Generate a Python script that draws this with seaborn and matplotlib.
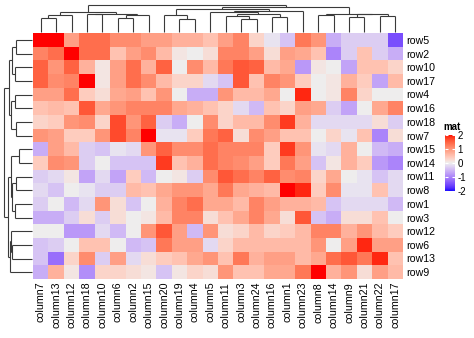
import numpy as np
import pandas as pd
import matplotlib
matplotlib.use("Agg")
import matplotlib.pyplot as plt
from matplotlib.colors import ListedColormap
import seaborn as sns

# ---------------- data (display order) ----------------
row_labels = ["row5", "row2", "row10", "row17", "row4", "row16", "row18", "row7", "row15",
              "row14", "row11", "row8", "row1", "row3", "row12", "row6", "row13", "row9"]
col_labels = ["column7", "column13", "column12", "column18", "column10", "column6", "column2",
              "column15", "column20", "column19", "column4", "column5", "column11", "column3",
              "column24", "column16", "column1", "column23", "column8", "column14", "column9",
              "column21", "column22", "column17"]

row5 = [2.0, 2.0, 0.9, 1.4, 1.4, 1.1, 1.1, 0.9, 0.9, 0.7, 0.7, 0.5, 0.9, 1.2, 0.3, -0.1, -0.4, 1.3, 1.0, -0.6, -0.3, -0.3, -0.3, -1.5]
row2 = [1.2, 1.4, 2.0, 1.4, 1.4, 0.5, 0.9, 1.1, 0.6, 0.1, 0.0, 0.2, 1.2, 1.2, 0.9, 0.2, 0.9, 0.8, 0.5, -1.0, -0.3, 0.5, -0.3, -0.6]
row10 = [1.5, 1.0, 1.5, 0.7, 0.1, 0.9, 1.4, 0.7, 1.5, 0.0, 1.1, 0.6, 1.3, 1.6, 1.5, 0.6, 0.8, -0.8, 0.1, 0.0, -0.7, 0.5, 0.5, 0.3]
row17 = [1.5, 1.1, 1.2, 2.0, 0.1, 0.9, 1.4, 1.1, 0.6, 0.3, 0.3, -0.2, -0.4, 1.6, 0.5, 1.2, 1.0, 0.4, 0.0, 0.1, 0.7, 0.4, -0.7, 0.6]
row4 = [0.9, 0.9, 1.4, 0.4, 0.2, 0.8, 0.9, 0.5, 1.0, 0.0, -0.6, -0.6, 1.0, 0.6, 0.6, 0.8, 0.0, 1.9, 0.0, 0.1, 1.2, 0.3, 0.0, 0.0]
row16 = [0.5, 0.6, 0.5, 1.6, 0.8, 1.0, 1.2, 1.2, 1.2, 0.8, 0.7, 0.5, 0.3, -0.2, -0.5, 0.5, 0.3, 0.9, 0.8, -0.3, -0.7, 0.0, 0.8, 1.2]
row18 = [0.3, 0.4, 1.0, 1.1, 0.3, 1.7, 1.0, 1.5, -0.3, -0.6, 0.0, 1.1, 0.3, 0.6, 0.6, 1.1, 1.8, 0.7, -0.2, -0.2, -0.2, -0.2, 0.2, -0.3]
row7 = [1.0, 0.9, 0.4, 0.4, 1.0, 1.7, 1.2, 2.0, -0.1, -0.1, 0.4, 1.3, 1.5, 0.2, 1.1, 0.9, 0.5, 0.5, 0.0, 0.3, -0.1, 0.5, -1.0, 0.2]
row15 = [-0.6, 0.9, 0.6, -0.3, -0.4, -0.1, -0.2, 1.0, 1.5, 1.1, 1.1, 1.4, 1.2, 1.2, 1.2, 0.4, 1.8, 1.0, -0.1, -0.2, 0.7, 0.0, -0.5, -0.6]
row14 = [0.4, 1.1, 1.0, -0.3, 0.0, -0.4, -0.4, -0.4, 1.8, 0.5, 0.7, 1.4, 1.2, 1.1, 0.9, 0.4, 1.3, 0.9, -0.4, 0.1, 0.7, 0.4, -0.8, -1.0]
row11 = [-0.3, -0.2, 0.1, -0.7, -0.2, -0.7, 0.4, -0.5, 0.0, 0.1, -0.3, 1.1, 1.6, 1.4, 1.2, 1.5, 1.1, 1.2, 0.3, 0.8, 0.0, -0.1, -0.4, -0.2]
row8 = [-0.2, -0.4, 0.0, -0.1, -0.3, -0.3, 0.6, 0.5, 0.8, 1.0, 1.0, 0.8, 1.3, 0.8, 0.7, 0.6, 2.0, 1.9, 0.4, 1.1, -0.1, -0.1, 0.5, -0.2]
row1 = [-0.3, 0.0, -0.5, -0.2, 1.0, 0.2, -0.4, 0.0, 0.7, 1.2, 1.4, 0.8, 0.8, 0.6, 1.2, 0.9, 0.7, 0.7, 0.6, -0.4, -0.2, -0.2, -0.2, -0.5]
row3 = [-0.6, -0.6, -0.3, 0.2, -0.3, 0.2, 0.0, 0.1, 0.6, 1.2, 1.2, 0.2, 0.5, 0.8, 1.2, 0.8, 0.2, 1.6, -0.4, -0.6, 0.2, 0.2, 0.5, 0.0]
row12 = [0.0, 0.0, -0.8, -0.8, -0.2, -0.5, 0.0, 1.0, 1.6, 0.9, -0.5, 1.0, 0.2, 0.3, 0.6, 0.3, 0.4, 0.6, 1.2, 1.2, 0.7, 1.0, 0.6, 0.4]
row6 = [-0.4, -0.3, 0.0, 0.5, 0.5, 0.0, -0.5, -0.4, 1.3, 0.9, 0.9, -0.2, 0.3, 0.6, 0.6, 0.6, 0.6, 0.6, 1.0, 0.0, 0.9, 1.9, 0.9, 0.9]
row13 = [-0.4, -1.2, 0.3, 1.1, -0.3, 0.9, -0.2, 0.2, 0.4, 0.5, 0.8, 1.0, 0.5, 1.3, 0.7, 0.9, 0.9, 0.6, 0.8, 1.4, 1.6, 1.3, 1.9, 0.5]
row9 = [-0.6, 0.7, 0.1, -0.9, 0.3, 0.3, 0.2, 0.1, -0.4, 0.1, 0.3, 0.2, 1.0, 0.5, 0.5, 0.8, 0.8, 1.3, 2.0, 0.7, 1.0, 0.2, 0.9, 0.6]

legend_ticks = [-2, -1, 0, 1, 2]

# dendrogram topologies: (left, right, merge height); ints are leaf positions
col_tree = (((((0, 1, 42), 2, 52), ((3, 4, 55), ((5, 6, 42), 7, 52), 56), 60),
             (((8, (9, 10, 40), 52),
               ((11, (((12, (13, 14, 40), 50)), (15, 16, 45), 55), 60), 17, 65), 69),
              (((18, 19, 52), ((20, 21, 45), (22, 23, 49), 54), 56)), 75), 82))
row_tree = (((((0, 1, 50), (2, 3, 52), 60), ((4, 5, 52), (6, 7, 50), 65), 70)),
            ((((8, 9, 38), ((10, 11, 50), (12, 13, 52), 60), 63)),
             (((14, (15, 16, 60), 64), 17, 68)), 72), 85)

# ---------------- colour map (LAB interpolation) ----------------
_M = np.array([[0.4124, 0.3576, 0.1805], [0.2126, 0.7152, 0.0722], [0.0193, 0.1192, 0.9505]])
_W = _M @ np.ones(3)


def _to_lab(rgb):
    rgb = np.asarray(rgb, float)
    lin = np.where(rgb <= 0.04045, rgb / 12.92, ((rgb + 0.055) / 1.055) ** 2.4)
    t = (_M @ lin) / _W
    f = np.where(t > 0.008856, np.cbrt(t), 7.787 * t + 16 / 116)
    return np.array([116 * f[1] - 16, 500 * (f[0] - f[1]), 200 * (f[1] - f[2])])


def _from_lab(lab):
    L, a, b = lab
    fy = (L + 16) / 116
    f = np.array([fy + a / 500, fy, fy - b / 200])
    t = np.where(f ** 3 > 0.008856, f ** 3, (f - 16 / 116) / 7.787)
    lin = np.linalg.solve(_M, t * _W)
    lin = np.clip(lin, 0, 1)
    rgb = np.where(lin <= 0.0031308, 12.92 * lin, 1.055 * lin ** (1 / 2.4) - 0.055)
    return np.clip(rgb, 0, 1)


blue, grey, red = _to_lab([0, 0, 1]), _to_lab([0xEE / 255] * 3), _to_lab([1, 0, 0])
colors = []
for v in np.linspace(-2, 2, 256):
    if v < 0:
        t = (v + 2) / 2
        colors.append(_from_lab(blue + (grey - blue) * t))
    else:
        t = v / 2
        colors.append(_from_lab(grey + (red - grey) * t))
cmap = ListedColormap(colors)

# ---------------- figure ----------------
W, H = 474, 338
plt.rcParams["font.family"] = ["Liberation Sans", "DejaVu Sans"]
fig = plt.figure(figsize=(W / 100, H / 100), dpi=100)


def fr(x0, y0, x1, y1):
    return [x0 / W, 1 - y1 / H, (x1 - x0) / W, (y1 - y0) / H]


ax = fig.add_axes(fr(33, 33, 403, 279))
cax = fig.add_axes(fr(445, 135, 455, 191))

rows = [row5, row2, row10, row17, row4, row16, row18, row7, row15,
        row14, row11, row8, row1, row3, row12, row6, row13, row9]
df = pd.DataFrame(rows, index=row_labels, columns=col_labels)

sns.heatmap(df, ax=ax, cmap=cmap, vmin=-2, vmax=2, cbar_ax=cax,
            cbar_kws={"ticks": legend_ticks}, xticklabels=True, yticklabels=True,
            linewidths=0)
ax.set_xlabel("")
ax.set_ylabel("")
ax.yaxis.tick_right()
ax.tick_params(axis="both", length=0, labelsize=7.7, pad=2)
plt.setp(ax.get_yticklabels(), rotation=0, ha="left")
plt.setp(ax.get_xticklabels(), rotation=90, va="top")

cax.tick_params(axis="y", which="both", left=True, right=True, direction="in",
                color="white", length=2, width=0.8, labelsize=7, pad=2)
cax.set_yticklabels([str(t) for t in legend_ticks])
for s in cax.spines.values():
    s.set_visible(False)
cb = ax.collections[0].colorbar
cb.outline.set_visible(False)
fig.text(443 / W, 1 - 132 / H, "mat", fontsize=7, fontweight="bold", ha="left", va="bottom")

LC = "#3a3a3a"


def draw_tree(a, node, horizontal):
    if isinstance(node, int):
        return node + 0.5, 0.0
    left, right, h = node
    p1, h1 = draw_tree(a, left, horizontal)
    p2, h2 = draw_tree(a, right, horizontal)
    segs = [((p1, h1), (p1, h)), ((p2, h2), (p2, h)), ((p1, h), (p2, h))]
    for (pa, ha), (pb, hb) in segs:
        if horizontal:
            a.plot([pa, pb], [ha, hb], color=LC, lw=0.8, clip_on=False, solid_capstyle="butt")
        else:
            a.plot([ha, hb], [pa, pb], color=LC, lw=0.8, clip_on=False, solid_capstyle="butt")
    return (p1 + p2) / 2, h


tax = fig.add_axes(fr(33, 5, 403, 32))
draw_tree(tax, col_tree, True)
tax.set_xlim(0, len(col_labels))
tax.set_ylim(0, col_tree[2])
tax.axis("off")

lax = fig.add_axes(fr(4, 33, 32, 279))
draw_tree(lax, row_tree, False)
lax.set_ylim(len(row_labels), 0)
lax.set_xlim(row_tree[2], 0)
lax.axis("off")

fig.savefig("out.png", dpi=100)
